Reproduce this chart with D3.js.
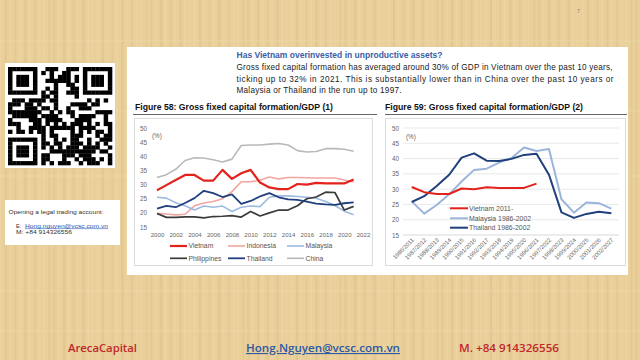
<!DOCTYPE html>
<html><head><meta charset="utf-8">
<script src="https://cdn.jsdelivr.net/npm/d3@7"></script>
<style>body{margin:0;padding:0;overflow:hidden}svg{display:block}</style>
</head><body>
<script>
// ---------- DATA ----------
const years = d3.range(2000, 2022);
const vietnam     = [28.0,29.8,31.6,33.4,33.4,31.4,31.4,35.2,32.0,34.0,35.2,30.7,29.0,28.4,28.4,30.2,30.0,30.6,30.4,30.4,30.4,31.8];
const indonesia   = [19.8,19.6,19.3,19.5,22.5,23.5,24.0,25.0,27.5,31.0,31.0,31.5,32.7,32.0,32.5,32.5,32.4,32.3,32.3,32.3,31.6,30.9];
const malaysia    = [25.5,25.2,23.6,22.5,21.0,22.4,22.0,22.4,20.5,22.0,22.4,22.2,25.5,26.0,26.0,25.8,25.5,25.2,24.0,22.6,20.6,19.3];
const philippines = [19.8,18.4,18.4,18.6,18.6,18.2,18.7,18.8,19.0,18.5,20.5,18.9,20.0,21.0,21.0,22.5,25.0,25.6,27.3,27.2,21.0,22.3];
const thailand    = [21.5,22.5,22.0,23.5,25.2,27.8,27.0,25.6,26.5,23.2,24.2,25.8,27.0,25.5,24.8,24.6,24.0,23.3,23.0,22.8,23.4,23.7];
const china       = [32.5,33.5,35.4,38.5,39.5,39.4,38.8,38.0,39.0,43.8,44.0,44.0,44.3,44.5,44.0,42.0,41.5,41.7,42.7,42.7,42.5,41.8];
const leftTicksX = d3.range(2000, 2023, 2);
const leftTicksY = [15,20,25,30,35,40,45,50];

const periods = ["1986/2011","1987/2012","1988/2013","1989/2014","1990/2015","1991/2016","1992/2017","1993/2018","1994/2019","1995/2020","1996/2021","1997/2022","1998/2023","1999/2024","2000/2025","2001/2026","2002/2027"];
const vietnam2011   = [30.7,29.0,28.4,28.4,30.2,30.0,30.6,30.4,30.4,30.4,31.8];
const malaysia1986  = [26.0,22.0,24.8,28.3,32.5,36.3,36.7,38.7,40.2,43.6,42.5,43.1,26.7,22.3,25.6,25.4,23.6];
const thailand1986  = [25.8,27.7,31.0,34.7,40.3,41.7,39.3,39.2,39.9,41.2,41.6,34.7,22.4,20.6,21.9,22.6,22.1];
const rightTicksY = [15,20,25,30,35,40,45,50];

const W = 640, H = 360;
const svg = d3.select("body").append("svg").attr("width", W).attr("height", H);
const F = "'Liberation Sans', Arial, sans-serif";

// ---------- BACKGROUND TEXTURE ----------
const defs = svg.append("defs");
const pat = defs.append("pattern").attr("id","wood").attr("patternUnits","userSpaceOnUse").attr("width",97).attr("height",360);
pat.append("rect").attr("width",97).attr("height",360).attr("fill","#e9cf9a");
const stripeShade = [0.3,0.8,0.1,0.6,0.45,0.9,0.2,0.7,0.35,0.05,0.55,0.75,0.15,0.95,0.4,0.65,0.25,0.85,0.5,0.0];
stripeShade.forEach((s,i)=>{
  pat.append("rect").attr("x", i*4.85).attr("y",0).attr("width", 1+s*1.4).attr("height",360)
    .attr("fill", s>0.5 ? "#dcbd82" : "#f2dfb3").attr("opacity", 0.25+0.2*s);
});
svg.append("rect").attr("width",W).attr("height",H).attr("fill","url(#wood)");
[40,110,175,290,330].forEach(y=>svg.append("rect").attr("x",0).attr("y",y).attr("width",W).attr("height",2).attr("fill","#f2dcab").attr("opacity",0.3));

// page number
svg.append("text").attr("x",577).attr("y",13).attr("font-family",F).attr("font-size",5).attr("fill","#8a7a60").text("7");

// ---------- QR CODE (decorative) ----------
svg.append("rect").attr("x",5).attr("y",63).attr("width",110).attr("height",105).attr("fill","#fff");
const N = 25, qx = 8, qy = 67, mw = 104/N, mh = 98/N;
const qr = svg.append("g");
function finder(r,c){return (r<7&&c<7)||(r<7&&c>=N-7)||(r>=N-7&&c<7);}
function finderOn(r,c){
  let rr = r>=N-7 ? r-(N-7) : r, cc = c>=N-7 ? c-(N-7) : c;
  if(rr===0||rr===6||cc===0||cc===6) return true;
  if(rr>=2&&rr<=4&&cc>=2&&cc<=4) return true;
  return false;
}
for(let r=0;r<N;r++)for(let c=0;c<N;c++){
  let on;
  if(finder(r,c)) on = finderOn(r,c);
  else if((r===7&&c<8)||(c===7&&r<8)||(r===7&&c>=N-8)||(c===N-8&&r<8)||(r===N-8&&c<8)||(c===7&&r>=N-8)) on=false;
  else { const h = Math.sin(r*12.9898 + c*78.233)*43758.5453; on = (h-Math.floor(h)) > 0.48; }
  if(on) qr.append("rect").attr("x",qx+c*mw).attr("y",qy+r*mh).attr("width",mw+0.3).attr("height",mh+0.3).attr("fill","#000");
}

// ---------- CONTACT BOX ----------
svg.append("rect").attr("x",5).attr("y",200).attr("width",115).attr("height",45).attr("fill","#fff");
svg.append("text").attr("x",8.5).attr("y",214).attr("font-family",F).attr("font-size",5.8).attr("fill","#333")
  .attr("textLength",95).attr("lengthAdjust","spacingAndGlyphs").text("Opening a legal trading account:");
svg.append("text").attr("x",16).attr("y",227.5).attr("font-family",F).attr("font-size",5.6).attr("fill","#333").text("E: ");
svg.append("text").attr("x",25).attr("y",227.5).attr("font-family",F).attr("font-size",5.6).attr("fill","#2a54b0")
  .attr("text-decoration","underline").attr("textLength",83).attr("lengthAdjust","spacingAndGlyphs").text("Hong.nguyen@vcsc.com.vn");
svg.append("text").attr("x",16).attr("y",233.5).attr("font-family",F).attr("font-size",5.6).attr("fill","#333")
  .attr("textLength",56).attr("lengthAdjust","spacingAndGlyphs").text("M: +84 914326556");

// ---------- WHITE PAGE ----------
svg.append("rect").attr("x",127).attr("y",47).attr("width",501).attr("height",228).attr("fill","#fff");

svg.append("text").attr("x",236.5).attr("y",58).attr("font-family",F).attr("font-size",8.4).attr("font-weight","bold")
  .attr("fill","#3a5ea6").attr("textLength",206).attr("lengthAdjust","spacingAndGlyphs")
  .text("Has Vietnam overinvested in unproductive assets?");
const body = [
  {t:"Gross fixed capital formation has averaged around 30% of GDP in Vietnam over the past 10 years,", w:376, y:70},
  {t:"ticking up to 32% in 2021. This is substantially lower than in China over the past 10 years or", w:377, y:81.5},
  {t:"Malaysia or Thailand in the run up to 1997.", w:165, y:93}
];
body.forEach(b=>svg.append("text").attr("x",236.5).attr("y",b.y).attr("font-family",F).attr("font-size",8.2)
  .attr("fill","#222").attr("textLength",b.w).attr("lengthAdjust","spacing").text(b.t));

// figure titles
svg.append("text").attr("x",135).attr("y",109.5).attr("font-family",F).attr("font-size",8.4).attr("font-weight","bold")
  .attr("fill","#111").attr("textLength",198).attr("lengthAdjust","spacingAndGlyphs").text("Figure 58: Gross fixed capital formation/GDP (1)");
svg.append("text").attr("x",385).attr("y",109.5).attr("font-family",F).attr("font-size",8.4).attr("font-weight","bold")
  .attr("fill","#111").attr("textLength",198).attr("lengthAdjust","spacingAndGlyphs").text("Figure 59: Gross fixed capital formation/GDP (2)");
svg.append("line").attr("x1",133).attr("x2",377).attr("y1",114.5).attr("y2",114.5).attr("stroke","#555").attr("stroke-width",0.9);
svg.append("line").attr("x1",385).attr("x2",627).attr("y1",114.5).attr("y2",114.5).attr("stroke","#555").attr("stroke-width",0.9);

// chart boxes
svg.append("rect").attr("x",134.5).attr("y",118.5).attr("width",238).attr("height",147).attr("fill","#fff").attr("stroke","#dcdcdc").attr("stroke-width",1);
svg.append("rect").attr("x",385.5).attr("y",118.5).attr("width",240).attr("height",147).attr("fill","#fff").attr("stroke","#dcdcdc").attr("stroke-width",1);

// ---------- LEFT CHART ----------
const xL = d3.scaleLinear().domain([2000,2022]).range([157,363]);
const yL = d3.scaleLinear().domain([15,50]).range([227,128]);
const gL = svg.append("g");
const axYL = gL.append("g").attr("transform","translate(149,0)")
  .call(d3.axisLeft(yL).tickValues(leftTicksY).tickSize(0).tickPadding(2));
axYL.select(".domain").remove();
axYL.selectAll("text").attr("font-family",F).attr("font-size",6.3).attr("fill","#666");
const axXL = gL.append("g").attr("transform","translate(0,231)")
  .call(d3.axisBottom(xL).tickValues(leftTicksX).tickFormat(d3.format("d")).tickSize(0).tickPadding(2));
axXL.select(".domain").remove();
axXL.selectAll("text").attr("font-family",F).attr("font-size",6.1).attr("fill","#666");
gL.append("text").attr("x",152).attr("y",137.5).attr("font-family",F).attr("font-size",6.3).attr("fill","#666").text("(%)");

const leftSeries = [
  {name:"China", data:china, color:"#b9b9b9", w:1.6},
  {name:"Indonesia", data:indonesia, color:"#f3a59f", w:1.6},
  {name:"Malaysia", data:malaysia, color:"#9dbbe0", w:1.6},
  {name:"Philippines", data:philippines, color:"#3b3b3b", w:1.7},
  {name:"Thailand", data:thailand, color:"#1f3f7d", w:1.8},
  {name:"Vietnam", data:vietnam, color:"#e3221c", w:2.2}
];
const lineL = d3.line().x((d,i)=>xL(years[i])).y(d=>yL(d));
leftSeries.forEach(s=>gL.append("path").attr("d",lineL(s.data)).attr("fill","none")
  .attr("stroke",s.color).attr("stroke-width",s.w).attr("stroke-linejoin","round"));

const legL = [
  {name:"Vietnam", x:170, y:246}, {name:"Indonesia", x:228, y:246}, {name:"Malaysia", x:287, y:246},
  {name:"Philippines", x:170, y:258.3}, {name:"Thailand", x:228, y:258.3}, {name:"China", x:287, y:258.3}
];
legL.forEach(l=>{
  const s = leftSeries.find(d=>d.name===l.name);
  gL.append("line").attr("x1",l.x).attr("x2",l.x+17).attr("y1",l.y).attr("y2",l.y).attr("stroke",s.color).attr("stroke-width",s.w);
  gL.append("text").attr("x",l.x+18.5).attr("y",l.y+2.3).attr("font-family",F).attr("font-size",6.8).attr("fill","#555").text(l.name);
});

// ---------- RIGHT CHART ----------
const xR = d3.scaleBand().domain(periods).range([405.5,617.6]).padding(0);
const cx = d => xR(d) + xR.bandwidth()/2;
const yR = d3.scaleLinear().domain([15,50]).range([235,128]);
const gR = svg.append("g");
gR.selectAll("line.grid").data(rightTicksY).join("line").attr("class","grid")
  .attr("x1",403).attr("x2",619).attr("y1",d=>yR(d)).attr("y2",d=>yR(d))
  .attr("stroke",d=>d===15?"#cfcfcf":"#e3e3e3").attr("stroke-width",0.8);
const axYR = gR.append("g").attr("transform","translate(401,0)")
  .call(d3.axisLeft(yR).tickValues(rightTicksY).tickSize(0).tickPadding(2));
axYR.select(".domain").remove();
axYR.selectAll("text").attr("font-family",F).attr("font-size",6.3).attr("fill","#666");
gR.append("text").attr("x",406).attr("y",139).attr("font-family",F).attr("font-size",6.3).attr("fill","#666").text("(%)");
gR.selectAll("text.xl").data(periods).join("text").attr("class","xl")
  .attr("transform",d=>`translate(${cx(d)+2.5},${240.5}) rotate(-45)`)
  .attr("text-anchor","end").attr("font-family",F).attr("font-size",5.8).attr("fill","#666").text(d=>d);

const lineR = d3.line().x((d,i)=>cx(periods[i])).y(d=>yR(d));
const rightSeries = [
  {name:"Vietnam 2011-", data:vietnam2011, color:"#e3221c", w:2},
  {name:"Malaysia 1986-2002", data:malaysia1986, color:"#9bb5da", w:2},
  {name:"Thailand 1986-2002", data:thailand1986, color:"#1f3f7d", w:2}
];
[rightSeries[1], rightSeries[2], rightSeries[0]].forEach(s=>gR.append("path").attr("d",lineR(s.data)).attr("fill","none")
  .attr("stroke",s.color).attr("stroke-width",s.w).attr("stroke-linejoin","round"));
const legRY = [208.3,218.3,227.7];
rightSeries.forEach((s,i)=>{
  gR.append("line").attr("x1",450).attr("x2",468).attr("y1",legRY[i]).attr("y2",legRY[i]).attr("stroke",s.color).attr("stroke-width",s.w);
  gR.append("text").attr("x",469).attr("y",legRY[i]+2.4).attr("font-family",F).attr("font-size",6.9).attr("fill","#555").text(s.name);
});

// ---------- FOOTER ----------
const FF = "'Open Sans', 'Liberation Sans', sans-serif";
svg.append("text").attr("x",68).attr("y",352).attr("font-family",FF).attr("font-size",11).attr("font-weight",600)
  .attr("fill","#c0282c").attr("textLength",69).attr("lengthAdjust","spacingAndGlyphs").text("ArecaCapital");
svg.append("text").attr("x",246).attr("y",352).attr("font-family",FF).attr("font-size",11).attr("font-weight",600)
  .attr("fill","#2c5aa6").attr("text-decoration","underline").attr("textLength",154).attr("lengthAdjust","spacingAndGlyphs").text("Hong.Nguyen@vcsc.com.vn");
svg.append("text").attr("x",459).attr("y",352).attr("font-family",FF).attr("font-size",11).attr("font-weight",600)
  .attr("fill","#c0282c").attr("textLength",100).attr("lengthAdjust","spacingAndGlyphs").text("M. +84 914326556");
</script>
</body></html>
